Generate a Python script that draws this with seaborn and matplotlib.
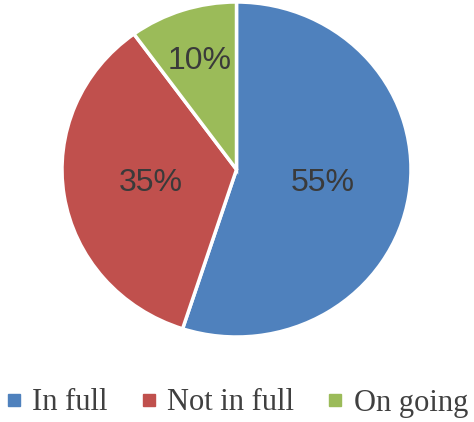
import matplotlib
matplotlib.use("Agg")
import matplotlib.pyplot as plt
from matplotlib.lines import Line2D
import seaborn as sns

categories = ["In full", "Not in full", "On going"]
shares = [55, 35, 10]
colors = ["#4F81BD", "#C0504D", "#9BBB59"]

sns.set_theme(style="white")
plt.rcParams["font.family"] = ["Liberation Sans", "DejaVu Sans"]

fig = plt.figure(figsize=(4.74, 4.22), dpi=100)
ax = fig.add_axes([62 / 474, 85 / 422, 349 / 474, 335 / 422])

wedges, texts, autotexts = ax.pie(
    shares, colors=colors, startangle=90, counterclock=False,
    autopct="%d%%", pctdistance=0.5,
    wedgeprops=dict(edgecolor="white", linewidth=2.5),
    textprops=dict(color="#3a3a3a", fontsize=23),
)
# small slice label sits further out, as in the original
x, y = autotexts[2].get_position()
autotexts[2].set_position((x * 1.36, y * 1.36))

ax.set_aspect("auto")
ax.set_xlim(-1.0, 1.0)
ax.set_ylim(-1.0, 1.0)
ax.axis("off")

handles = [Line2D([0], [0], marker="s", linestyle="none", markersize=8,
                  markerfacecolor=c, markeredgecolor=c) for c in colors]
fig.legend(handles, categories, loc="center", bbox_to_anchor=(0.5, 1 - 403 / 422),
           ncol=3, frameon=False, handlelength=0.5, handletextpad=0.35,
           columnspacing=1.1, borderpad=0.1, prop=dict(family="Liberation Serif", size=22),
           labelcolor="#404040")

fig.savefig("out.png", dpi=100, facecolor="white")
